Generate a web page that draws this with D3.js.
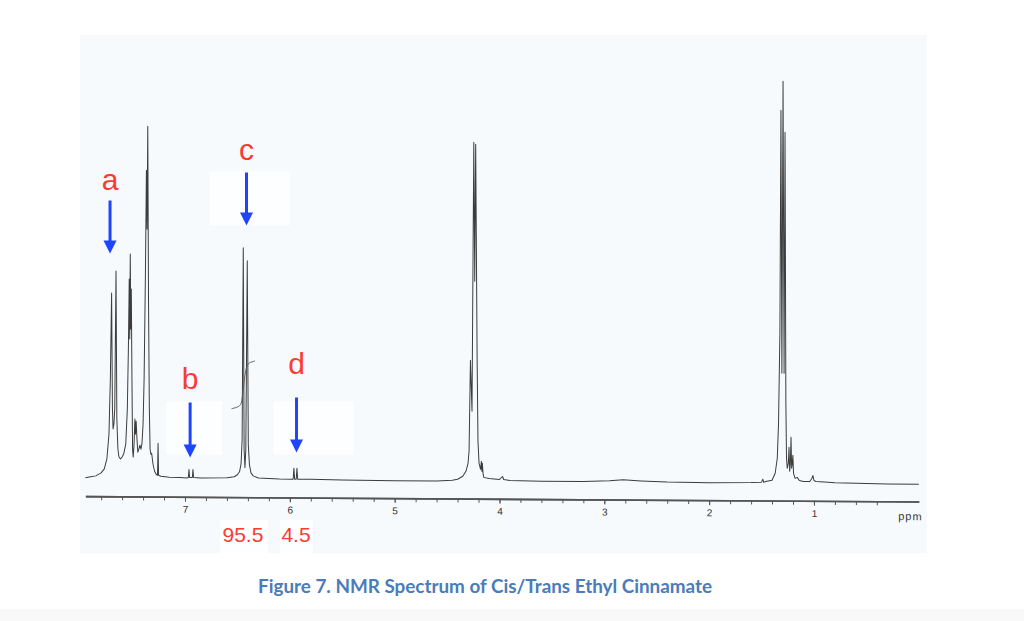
<!DOCTYPE html>
<html>
<head>
<meta charset="utf-8">
<script src="https://cdn.jsdelivr.net/npm/d3@7/dist/d3.min.js"></script>
<style>
  html, body { margin: 0; padding: 0; background: #fff; }
  svg { display: block; }
</style>
</head>
<body>
<svg id="chart" width="1024" height="621"></svg>
<script>
// trace: [ppm, intensity]
var spectrum = [
  [7.95, 1], [7.90, 2], [7.85, 3], [7.80, 6], [7.77, 10], [7.745, 20], [7.725, 45],
  [7.712, 100], [7.70, 186], [7.692, 70], [7.686, 50], [7.678, 55], [7.670, 70],
  [7.658, 208], [7.650, 60], [7.640, 30], [7.63, 22], [7.615, 20], [7.60, 22],
  [7.585, 25], [7.565, 35], [7.55, 70], [7.54, 130], [7.532, 200], [7.527, 140],
  [7.522, 225], [7.517, 150], [7.512, 190], [7.506, 100], [7.50, 30], [7.494, 22],
  [7.486, 35], [7.478, 60], [7.472, 45], [7.466, 58], [7.458, 40], [7.450, 27],
  [7.440, 30], [7.430, 34], [7.42, 30], [7.41, 36], [7.40, 55], [7.39, 100],
  [7.378, 200], [7.368, 309], [7.362, 250], [7.355, 353], [7.348, 180], [7.34, 70],
  [7.333, 30], [7.325, 25], [7.318, 26], [7.305, 15], [7.29, 8], [7.275, 5],
  [7.262, 4], [7.257, 36], [7.252, 4], [7.23, 3], [7.15, 2], [7.05, 2],
  [6.98, 1.5], [6.968, 2], [6.962, 10], [6.956, 2], [6.93, 2], [6.924, 10], [6.918, 2],
  [6.85, 1.5], [6.60, 2], [6.53, 3], [6.50, 5], [6.48, 8], [6.465, 16], [6.455, 40],
  [6.444, 232], [6.436, 30], [6.428, 12], [6.42, 30], [6.406, 219], [6.396, 35],
  [6.385, 15], [6.37, 7], [6.35, 4], [6.30, 2], [6.10, 1],
  [5.968, 1], [5.961, 12], [5.954, 1], [5.939, 1], [5.932, 12], [5.925, 1],
  [5.80, 1], [5.5, 0.5], [5.0, 0], [4.6, 0], [4.45, 1], [4.40, 2], [4.35, 5],
  [4.32, 10], [4.30, 18], [4.29, 30], [4.277, 121], [4.262, 70], [4.245, 339],
  [4.236, 200], [4.227, 337], [4.213, 120], [4.205, 40], [4.195, 18], [4.18, 12],
  [4.173, 20], [4.168, 10], [4.163, 18], [4.157, 8], [4.15, 4], [4.10, 3],
  [4.00, 2], [3.97, 5], [3.96, 2], [3.90, 1], [3.6, 0.5], [3.2, 0.5], [2.95, 1.5],
  [2.82, 2.5], [2.65, 1.5], [2.4, 0.5], [2.0, 0], [1.6, 0.5], [1.50, 1], [1.488, 4],
  [1.48, 1], [1.45, 2], [1.40, 3], [1.37, 10], [1.35, 25], [1.338, 60], [1.325, 150],
  [1.315, 373], [1.306, 110], [1.295, 402], [1.285, 110], [1.276, 351], [1.268, 80],
  [1.262, 25], [1.255, 15], [1.245, 20], [1.238, 36], [1.232, 12], [1.225, 20],
  [1.219, 46], [1.213, 15], [1.207, 20], [1.201, 28], [1.195, 10], [1.18, 5],
  [1.16, 6], [1.14, 3], [1.10, 2], [1.04, 2], [1.02, 5], [1.01, 8], [1.00, 3],
  [0.98, 2], [0.90, 1.5], [0.80, 1], [0.6, 0.5], [0.3, 0], [0.0, 0]
]

// integral step drawn over peak c
var integral = [
  [6.556, 71], [6.52, 72], [6.49, 73], [6.47, 75], [6.458, 78], [6.447, 88],
  [6.435, 100], [6.42, 110], [6.405, 115], [6.39, 117], [6.36, 118], [6.332, 119]
]

var majorTicks = [7, 6, 5, 4, 3, 2, 1]
var tickLabels = ['7', '6', '5', '4', '3', '2', '1']
var unitLabel = 'ppm'

// arrow annotations
var peakLabels = ['a', 'b', 'c', 'd']
var peakPpm = [7.715, 6.951, 6.413, 5.936]
var labelLevel = [292, 93, 322, 108]
var arrowTop = [281, 79, 309, 84]
var arrowTip = [228, 24, 256, 29]

// cis/trans ratio under the axis
var ratioLabels = ['95.5', '4.5']
var ratioPpm = [6.447, 5.941]

var title = 'Figure 7. NMR Spectrum of Cis/Trans Ethyl Cinnamate'

var svg = d3.select('#chart')

// page and scanned sheet
svg.append('rect').attr('width', 1024).attr('height', 621).attr('fill', '#ffffff')
svg.append('rect').attr('x', 0).attr('y', 609).attr('width', 1024).attr('height', 12).attr('fill', '#f9f9f9')
svg.append('rect').attr('x', 80).attr('y', 35).attr('width', 847).attr('height', 518).attr('fill', '#f6fafd')

// Set the ranges (ppm runs right to left)
var x = d3.scaleLinear().domain([7.95, 0]).range([85.4, 918.8])
var y = d3.scaleLinear().domain([0, 400]).range([481.5, 81.5])

// white patches the labels were pasted on
var boxes = [
  [x(6.413) - 37, y(309) - 1, 80, 54],
  [x(5.936) - 23, y(80), 80, 53],
  [x(6.951) - 24, y(80), 56, 53],
  [x(6.447) - 23, 520, 48, 33],
  [x(5.941) - 16, 520, 33, 33]
]
svg.selectAll('rect.box').data(boxes).enter().append('rect')
  .attr('class', 'box')
  .attr('x', function (d) { return d[0] })
  .attr('y', function (d) { return d[1] })
  .attr('width', function (d) { return d[2] })
  .attr('height', function (d) { return d[3] })
  .attr('fill', '#fdfeff')

// the scan is a little crooked, tilt the plot to match
var plot = svg.append('g')
  .attr('transform', 'translate(503,490) skewY(0.37) translate(-503,-490)')

var lineGen = d3.line()
  .x(function (d) { return x(d[0]) })
  .y(function (d) { return y(d[1]) })

plot.append('path')
  .attr('d', lineGen(spectrum))
  .attr('fill', 'none')
  .attr('stroke', '#3c3c3c')
  .attr('stroke-width', 1)
  .attr('stroke-linejoin', 'round')

plot.append('path')
  .attr('d', lineGen.curve(d3.curveBasis)(integral))
  .attr('fill', 'none')
  .attr('stroke', '#555')
  .attr('stroke-width', 0.9)

// Add the X Axis
var minorTicks = d3.range(2, 40).map(function (i) { return i / 5 })
plot.append('g')
  .attr('class', 'x axis minor')
  .attr('transform', 'translate(0,498.8)')
  .call(d3.axisBottom(x).tickValues(minorTicks).tickSize(4).tickSizeOuter(0).tickFormat(''))

var major = plot.append('g')
  .attr('class', 'x axis major')
  .attr('transform', 'translate(0,498.8)')
  .call(d3.axisBottom(x).tickValues(majorTicks).tickSize(5).tickSizeOuter(0)
    .tickFormat(function (d, i) { return tickLabels[i] }))

plot.selectAll('.axis path.domain').attr('stroke', '#555').attr('stroke-width', 1.6)
plot.selectAll('.axis .tick line').attr('stroke', '#555').attr('stroke-width', 1)
major.selectAll('.tick text')
  .attr('y', 9)
  .attr('fill', '#333')
  .style('font-family', 'Liberation Sans, Arial, sans-serif')
  .style('font-size', '10px')

plot.append('text')
  .attr('x', x(0.08))
  .attr('y', 517.5)
  .attr('text-anchor', 'middle')
  .attr('fill', '#333')
  .style('font-family', 'Liberation Sans, Arial, sans-serif')
  .style('font-size', '11px')
  .style('letter-spacing', '1px')
  .text(unitLabel)

// arrows and letters
var redText = '#fd3a32'
var arrowBlue = '#1f45fb'
var ann = svg.append('g').attr('class', 'annotations')
peakLabels.forEach(function (lab, i) {
  var cx = x(peakPpm[i])
  ann.append('text')
    .attr('x', cx)
    .attr('y', y(labelLevel[i]))
    .attr('text-anchor', 'middle')
    .attr('fill', redText)
    .style('font-family', 'Liberation Sans, Arial, sans-serif')
    .style('font-size', '30px')
    .text(lab)
  ann.append('line')
    .attr('x1', cx).attr('x2', cx)
    .attr('y1', y(arrowTop[i]))
    .attr('y2', y(arrowTip[i]) - 10)
    .attr('stroke', arrowBlue)
    .attr('stroke-width', 3)
  ann.append('path')
    .attr('d', 'M' + (cx - 6.5) + ',' + (y(arrowTip[i]) - 13) + 'L' + (cx + 6.5) + ',' + (y(arrowTip[i]) - 13) + 'L' + cx + ',' + y(arrowTip[i]) + 'Z')
    .attr('fill', arrowBlue)
})

ann.selectAll('text.ratio').data(ratioLabels).enter().append('text')
  .attr('class', 'ratio')
  .attr('x', function (d, i) { return x(ratioPpm[i]) })
  .attr('y', 541.5)
  .attr('text-anchor', 'middle')
  .attr('fill', redText)
  .style('font-family', 'Liberation Sans, Arial, sans-serif')
  .style('font-size', '21px')
  .text(function (d) { return d })

// caption
svg.append('text')
  .attr('x', 258)
  .attr('y', 593)
  .attr('fill', '#4a7bbb')
  .attr('textLength', 454)
  .attr('lengthAdjust', 'spacingAndGlyphs')
  .style('font-family', 'Lato, Open Sans, sans-serif')
  .style('font-weight', 700)
  .style('font-size', '19px')
  .text(title)
</script>
</body>
</html>
